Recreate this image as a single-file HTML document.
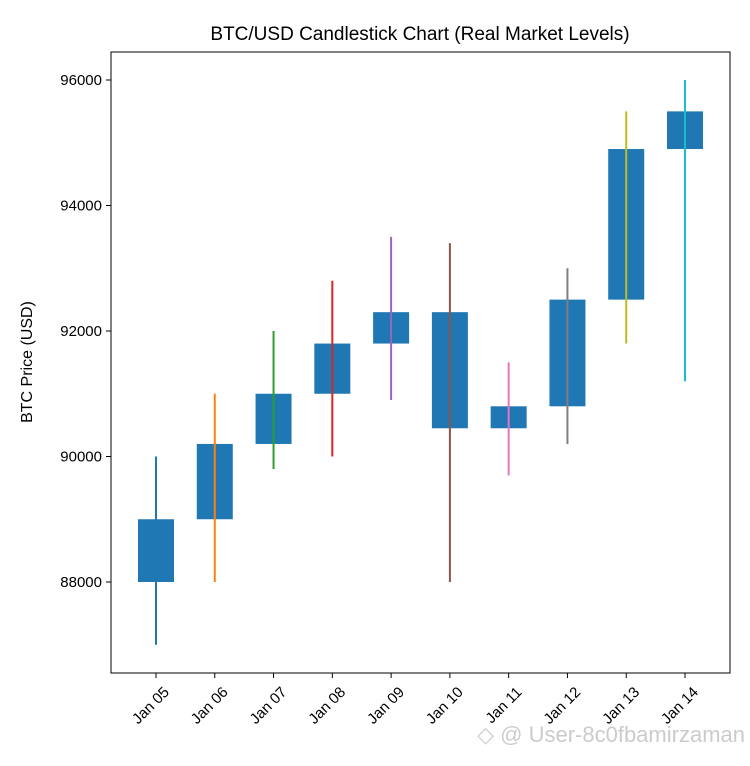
<!DOCTYPE html>
<html><head><meta charset="utf-8"><style>
body{margin:0;background:#fff;}
svg text{font-family:"Liberation Sans","DejaVu Sans",sans-serif;}
</style></head><body>
<svg id="chart" width="750" height="761" viewBox="0 0 750 761">
<rect width="750" height="761" fill="#fff"/>
<text x="420" y="40" text-anchor="middle" font-size="19" fill="#000">BTC/USD Candlestick Chart (Real Market Levels)</text>
<text transform="translate(32,362) rotate(-90)" text-anchor="middle" font-size="16" fill="#000">BTC Price (USD)</text>
<g id="marks"></g>
<g id="axes"></g>
<text x="745" y="742" text-anchor="end" font-size="22" fill="#aaa" opacity="0.6">◇ @ User-8c0fbamirzaman</text>
</svg>
<script>
const categories=["Jan 05","Jan 06","Jan 07","Jan 08","Jan 09","Jan 10","Jan 11","Jan 12","Jan 13","Jan 14"];
const openVals=[88000,89000,90200,91000,91800,92300,90800,90800,92500,94900];
const closeVals=[89000,90200,91000,91800,92300,90450,90450,92500,94900,95500];
const highVals=[90000,91000,92000,92800,93500,93400,91500,93000,95500,96000];
const lowVals=[87000,88000,89800,90000,90900,88000,89700,90200,91800,91200];
const yTicks=[88000,90000,92000,94000,96000];
const colors=["#1f77b4","#ff7f0e","#2ca02c","#d62728","#9467bd","#8c564b","#e377c2","#7f7f7f","#bcbd22","#17becf"];
const L=111,R=730,T=52,B=673;
const xs=i=>156+(i)*(685-156)/9;
const ys=v=>80+(96000-v)*(582-80)/8000;
const NS="http://www.w3.org/2000/svg";
const marks=document.getElementById('marks'),axes=document.getElementById('axes');
function mk(tag,attrs,parent){const e=document.createElementNS(NS,tag);for(const k in attrs)e.setAttribute(k,attrs[k]);parent.appendChild(e);return e;}
const bw=36;
categories.forEach((c,i)=>{
 const top=ys(Math.max(openVals[i],closeVals[i])),bot=ys(Math.min(openVals[i],closeVals[i]));
 const b=mk('rect',{x:xs(i)-bw/2,y:top,width:bw,height:bot-top,fill:'#1f77b4'},marks);
 
 
 const w=mk('line',{x1:xs(i),x2:xs(i),y1:ys(highVals[i]),y2:ys(lowVals[i]),stroke:colors[i%10],'stroke-width':2},marks);
 
 
 mk('line',{x1:xs(i),x2:xs(i),y1:B,y2:B+5,stroke:'#000'},axes);
 const t=mk('text',{transform:`translate(${xs(i)+14},${B+20}) rotate(-45)`,'text-anchor':'end','font-size':15,fill:'#000'},axes);
 t.textContent=c;
 
 
});
yTicks.forEach(v=>{
 mk('line',{x1:L-5,x2:L,y1:ys(v),y2:ys(v),stroke:'#000'},axes);
 const t=mk('text',{x:L-9,y:ys(v)+5,'text-anchor':'end','font-size':15,fill:'#000'},axes);
 t.textContent=v;
 
 
});
const f=mk('rect',{x:L,y:T,width:R-L,height:B-T,fill:'none',stroke:'#000','stroke-width':1},axes);


</script>
</body></html>
